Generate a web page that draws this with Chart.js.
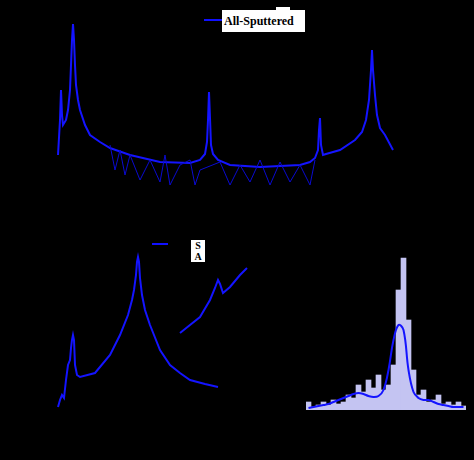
<!DOCTYPE html>
<html><head><meta charset="utf-8">
<script src="https://cdn.jsdelivr.net/npm/chart.js@4"></script>
<style>
body{margin:0;background:#000;width:474px;height:460px;position:relative;overflow:hidden}
.box{position:absolute}
.leg{position:absolute;font-family:"Liberation Serif",serif;font-weight:bold;color:#000}
</style></head><body>
<div class="box" style="left:50px;top:15px;width:350px;height:175px"><canvas id="top"></canvas></div>
<div class="box" style="left:50px;top:240px;width:200px;height:175px"><canvas id="bl"></canvas></div>
<div class="box" style="left:306px;top:250px;width:160px;height:160px"><canvas id="br"></canvas></div>
<div class="leg" style="left:204px;top:19px;width:18px;height:2px;background:#1010ff"></div>
<div class="leg" style="left:222px;top:10px;width:83px;height:22px;background:#fff;font-size:12px;line-height:22px;padding-left:2px;box-sizing:border-box">All-Sputtered</div>
<div class="leg" style="left:276px;top:7px;width:14px;height:4px;background:#fff"></div>
<div class="leg" style="left:152px;top:243px;width:16px;height:2px;background:#1010ff"></div>
<div class="leg" style="left:191px;top:240px;width:14px;height:22px;background:#fff;font-size:10px;line-height:11px;text-align:center">S<br>A</div>
<script>
// top spectrum, x in px-like units, y intensity
const topX = [58,60,61,62,63,66,68,70,71,72,73,74,75,76,78,80,85,90,100,110,130,160,190,200,205,207,208,209,210,211,213,218,230,260,300,310,315,318,319,320,321,323,326,340,355,362,366,369,371,372,373,375,377,380,385,393];
const topY = [35,70,100,75,65,70,80,100,125,150,166,150,125,105,90,80,65,55,48,42,35,28,27,30,36,48,70,98,72,45,36,30,25,23,25,28,32,40,60,72,45,35,36,40,50,58,70,90,120,140,120,95,75,62,55,40];
const noiseX = [110,115,120,125,130,140,150,160,165,170,180,190,195,200,220,230,240,250,260,270,280,290,300,310,315];
const noiseY = [45,20,40,15,35,10,30,8,35,5,25,30,5,20,28,5,25,8,30,5,28,8,25,5,30];
// bottom left
const blX = [58,60,62,64,66,68,70,71,72,73,74,75,77,80,95,110,120,128,132,134,136,137,138,139,140,142,145,150,160,170,180,190,205,218];
const blY = [3,10,15,12,30,45,50,62,70,75,70,45,35,33,37,55,75,95,110,120,135,148,153,148,132,115,100,85,60,45,37,30,26,23];
const bl2X = [180,190,200,210,215,218,220,223,230,240,247];
const bl2Y = [77,85,93,110,122,130,126,117,123,135,142];
// bottom right histogram and smoothed curve
const bins = [...Array(32).keys()].map(i => "b" + i);
const hist = [8,3,5,8,5,10,6,8,15,12,25,18,30,22,35,20,25,45,120,152,90,40,15,20,8,10,15,6,8,5,8,4];
const smooth = [2,3,4,5,6,8,10,12,14,16,17,16,14,13,14,20,40,70,85,80,40,18,12,10,10,8,6,5,4,3,3,3];

const blue = "#1414ff";
function pts(xs, ys){ return xs.map((x,i)=>({x:x,y:ys[i]})); }
const base = {responsive:true,maintainAspectRatio:false,animation:false,
  layout:{padding:0},plugins:{legend:{display:false},tooltip:{enabled:false}},
  elements:{point:{radius:0}}};

new Chart(document.getElementById("top"), {
  type:"line",
  data:{datasets:[
    {data:pts(noiseX,noiseY),borderColor:"#0a0ad0",borderWidth:1},
    {data:pts(topX,topY),borderColor:blue,borderWidth:2}
  ]},
  options:{...base,scales:{x:{type:"linear",min:50,max:400,display:false},y:{min:0,max:175,display:false}}}
});
new Chart(document.getElementById("bl"), {
  type:"line",
  data:{datasets:[
    {data:pts(blX,blY),borderColor:blue,borderWidth:2},
    {data:pts(bl2X,bl2Y),borderColor:blue,borderWidth:2}
  ]},
  options:{...base,scales:{x:{type:"linear",min:50,max:250,display:false},y:{min:-5,max:170,display:false}}}
});
new Chart(document.getElementById("br"), {
  data:{labels:bins,datasets:[
    {type:"line",data:smooth,borderColor:blue,borderWidth:2,tension:0.4,order:0},
    {type:"bar",data:hist,backgroundColor:"#c4c4f2",barPercentage:1,categoryPercentage:1,order:1}
  ]},
  options:{...base,scales:{x:{display:false},y:{min:0,max:160,display:false}}}
});
</script>
</body></html>
